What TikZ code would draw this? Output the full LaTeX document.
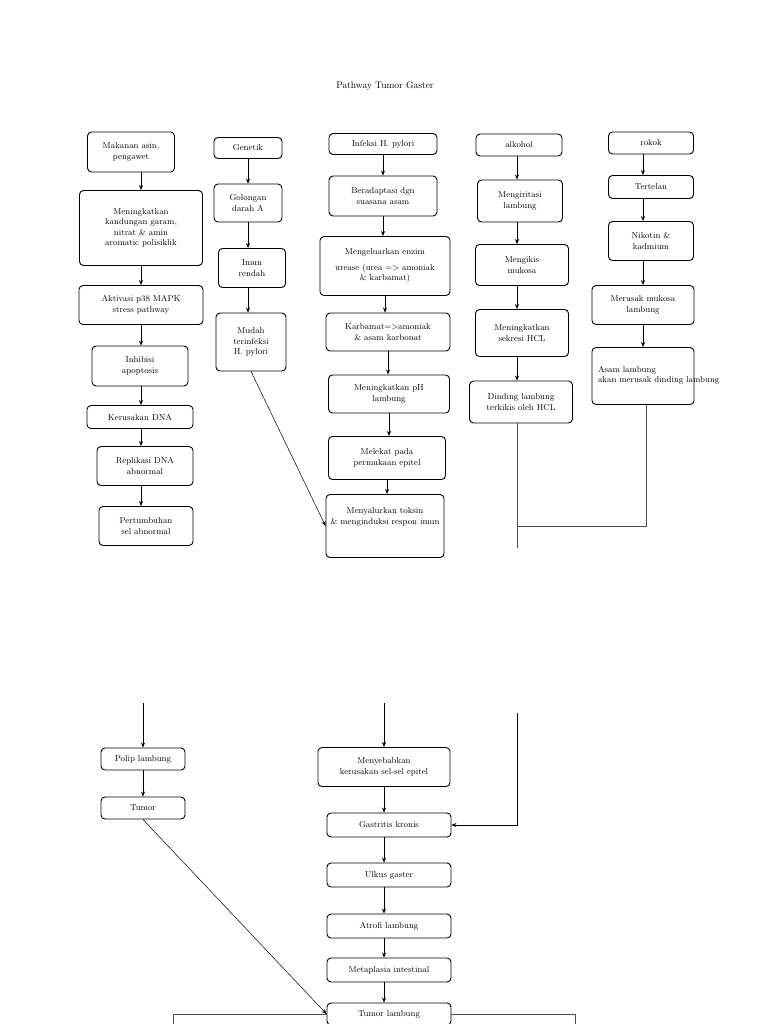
\documentclass[tikz,border=0pt]{standalone}
\usepackage{tikz}
\usetikzlibrary{arrows.meta}
\begin{document}
\begin{tikzpicture}[x=1pt,y=-1pt,
    box/.style={rectangle, draw, rounded corners=4pt, line width=0.9pt, inner sep=1pt, align=center, font=\fontsize{8.6}{10.5}\selectfont},
    arrow/.style={-{Stealth[length=5pt,width=4pt]}, line width=0.6pt},
    line/.style={line width=0.5pt, draw=black!70}
]
\useasboundingbox (0,0) rectangle (768,1024);
\node[font=\fontsize{9.5}{11}\selectfont] (title) at (385,86) {Pathway Tumor Gaster};

% Column 1
\node[box, minimum width=87, minimum height=40] (m1) at (131,152) {Makanan asin,\\pengawet};
\node[box, minimum width=123, minimum height=75] (m2) at (141,228) {Meningkatkan\\kandungan garam,\\nitrat \& amin\\aromatic polisiklik};
\node[box, minimum width=124, minimum height=39] (m3) at (141,305) {Aktivasi p38 MAPK\\stress pathway};
\node[box, minimum width=96, minimum height=40] (m4) at (140,366) {Inhibisi\\apoptosis};
\node[box, minimum width=106, minimum height=23] (m5) at (140,417) {Kerusakan DNA};
\node[box, minimum width=96, minimum height=39] (m6) at (145,466) {Replikasi DNA\\abnormal};
\node[box, minimum width=94, minimum height=39] (m7) at (146,526) {Pertumbuhan\\sel abnormal};
\foreach \a/\b in {m1/m2,m2/m3,m3/m4,m4/m5,m5/m6,m6/m7}
  \draw[arrow] (141,0 |- \a.south) -- (141,0 |- \b.north);

% Column 2
\node[box, minimum width=68, minimum height=21] (g1) at (248,148) {Genetik};
\node[box, minimum width=68, minimum height=38] (g2) at (248,203) {Golongan\\darah A};
\node[box, minimum width=67, minimum height=39] (g3) at (252,268) {Imun\\rendah};
\node[box, minimum width=70, minimum height=58] (g4) at (251,342) {Mudah\\terinfeksi\\H. pylori};
\draw[arrow] (g1) -- (g2);
\draw[arrow] (g2.south) -- (g2.south |- g3.north);
\draw[arrow] (g2.south |- g3.south) -- (g2.south |- g4.north);

% Column 3
\node[box, minimum width=108, minimum height=21] (h1) at (383,144) {Infeksi H. pylori};
\node[box, minimum width=108, minimum height=40] (h2) at (383,196) {Beradaptasi dgn\\suasana asam};
\node[box, minimum width=130, minimum height=59] (h3) at (385,266) {Mengeluarkan enzim\\[5pt]urease (urea => amoniak\\\& karbamat)};
\node[box, minimum width=124, minimum height=38] (h4) at (388,332) {Karbamat=>amoniak\\\& asam karbonat};
\node[box, minimum width=121, minimum height=38] (h5) at (389,394) {Meningkatkan pH\\lambung};
\node[box, minimum width=117, minimum height=43] (h6) at (387,458) {Melekat pada\\permukaan epitel};
\node[box, minimum width=118, minimum height=63, text depth=20pt] (h7) at (385,526) {Menyalurkan toksin\\\& menginduksi respon imun};
\foreach \a/\b in {h1/h2,h2/h3,h3/h4,h4/h5,h5/h6,h6/h7}
  \draw[arrow] (\a) -- (\a |- \b.north);
\draw[arrow, line width=0.5pt] (g4.south) -- (h7.west);

% Column 4
\node[box, minimum width=86, minimum height=22] (a1) at (519,145) {alkohol};
\node[box, minimum width=85, minimum height=42] (a2) at (520,201) {Mengiritasi\\lambung};
\node[box, minimum width=93, minimum height=41] (a3) at (522,265) {Mengikis\\mukosa};
\node[box, minimum width=93, minimum height=47] (a4) at (522,333) {Meningkatkan\\sekresi HCL};
\node[box, minimum width=103, minimum height=42] (a5) at (521,402) {Dinding lambung\\terkikis oleh HCL};
\foreach \a/\b in {a1/a2,a2/a3,a3/a4,a4/a5}
  \draw[arrow, line width=0.5pt] (517,0 |- \a.south) -- (517,0 |- \b.north);

% Column 5
\node[box, minimum width=85, minimum height=22] (r1) at (651,143) {rokok};
\node[box, minimum width=85, minimum height=23] (r2) at (651,187) {Tertelan};
\node[box, minimum width=85, minimum height=39] (r3) at (651,241) {Nikotin \&\\kadmium};
\node[box, minimum width=102, minimum height=39] (r4) at (643,305) {Merusak mukosa\\lambung};
\node[box, minimum width=102, minimum height=57, text depth=14pt, align=left, text width=90pt] (r5) at (643,376) {Asam lambung\\\makebox[0pt][l]{akan merusak dinding lambung}};
\foreach \a/\b in {r1/r2,r2/r3,r3/r4,r4/r5}
  \draw[arrow] (\a.south -| r4) -- (\b.north -| r4);

\coordinate (j1) at (517,548);
\coordinate (j2) at (517,526);
\draw[line] (a5.south -| j1) -- (j1);
\draw[line] (r5.south -| 646,0) |- (j2);

% Bottom part
\coordinate (t1) at (143,703);
\coordinate (t2) at (384,703);
\coordinate (t3) at (517,713);
\node[box, minimum width=84, minimum height=22] (p1) at (143,759) {Polip lambung};
\node[box, minimum width=84, minimum height=22] (p2) at (143,808) {Tumor};
\node[box, minimum width=132, minimum height=39] (s1) at (384,767) {Menyebabkan\\kerusakan sel-sel epitel};
\node[box, minimum width=124, minimum height=24] (s2) at (389,825) {Gastritis kronis};
\node[box, minimum width=124, minimum height=24] (s3) at (389,875) {Ulkus gaster};
\node[box, minimum width=124, minimum height=24] (s4) at (389,926) {Atrofi lambung};
\node[box, minimum width=124, minimum height=24] (s5) at (389,970) {Metaplasia intestinal};
\node[box, minimum width=124, minimum height=22] (s6) at (389,1014) {Tumor lambung};
\draw[arrow] (t1) -- (p1);
\draw[arrow] (p1) -- (p2);
\draw[arrow] (t2) -- (s1);
\foreach \a/\b in {s1/s2,s2/s3,s3/s4,s4/s5,s5/s6}
  \draw[arrow] (\a.south -| s1) -- (\b.north -| s1);
\draw[arrow, line width=0.5pt] (t3) |- (s2.east);
\draw[arrow, line width=0.5pt] (p2.south) -- (s6.west);
\coordinate (b1) at (173,1030);
\coordinate (b2) at (575,1030);
\draw[line] (s6.west) -| (b1);
\draw[line] (s6.east) -| (b2);
\end{tikzpicture}
\end{document}
